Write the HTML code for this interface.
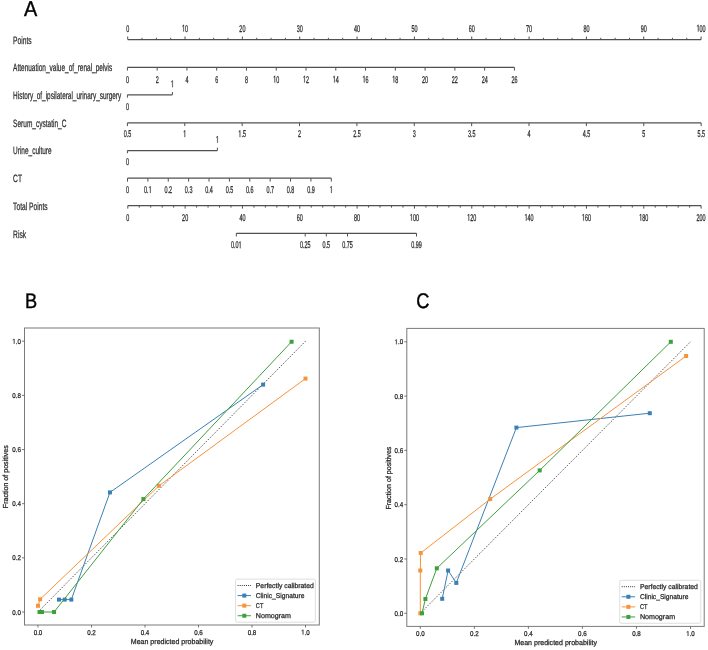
<!DOCTYPE html>
<html><head><meta charset="utf-8"><title>Nomogram and calibration curves</title>
<style>
html,body{margin:0;padding:0;background:#fff;}
body{width:708px;height:650px;overflow:hidden;}
svg{display:block;font-family:"Liberation Sans",sans-serif;text-rendering:geometricPrecision;filter:blur(0.3px);}
</style></head>
<body>
<svg width="708" height="650" viewBox="0 0 708 650">
<rect width="708" height="650" fill="#fff"/>
<text transform="translate(23.9,15.8) scale(0.93,1)" font-size="21.4" fill="#000" stroke="#000" stroke-width="0.4">A</text>
<text transform="translate(13.10,43.60) scale(0.6300,1)" font-size="10.6" text-anchor="start" fill="#2a2a2a" stroke="#2a2a2a" stroke-width="0.25">Points</text>
<text transform="translate(13.10,71.30) scale(0.6124,1)" font-size="10.6" text-anchor="start" fill="#2a2a2a" stroke="#2a2a2a" stroke-width="0.25">Attenuation_value_of_renal_pelvis</text>
<text transform="translate(13.10,99.00) scale(0.6079,1)" font-size="10.6" text-anchor="start" fill="#2a2a2a" stroke="#2a2a2a" stroke-width="0.25">History_of_ipsilateral_urinary_surgery</text>
<text transform="translate(13.10,126.70) scale(0.6161,1)" font-size="10.6" text-anchor="start" fill="#2a2a2a" stroke="#2a2a2a" stroke-width="0.25">Serum_cystatin_C</text>
<text transform="translate(13.10,154.40) scale(0.6111,1)" font-size="10.6" text-anchor="start" fill="#2a2a2a" stroke="#2a2a2a" stroke-width="0.25">Urine_culture</text>
<text transform="translate(13.10,182.10) scale(0.6300,1)" font-size="10.6" text-anchor="start" fill="#2a2a2a" stroke="#2a2a2a" stroke-width="0.25">CT</text>
<text transform="translate(13.10,209.80) scale(0.6300,1)" font-size="10.6" text-anchor="start" fill="#2a2a2a" stroke="#2a2a2a" stroke-width="0.25">Total Points</text>
<text transform="translate(13.10,237.50) scale(0.6300,1)" font-size="10.6" text-anchor="start" fill="#2a2a2a" stroke="#2a2a2a" stroke-width="0.25">Risk</text>
<line x1="127.70" y1="39.50" x2="701.10" y2="39.50" stroke="#505050" stroke-width="1.25" />
<line x1="127.70" y1="39.50" x2="127.70" y2="36.50" stroke="#505050" stroke-width="1.0" />
<line x1="142.03" y1="39.50" x2="142.03" y2="37.80" stroke="#505050" stroke-width="1.0" />
<line x1="156.37" y1="39.50" x2="156.37" y2="37.80" stroke="#505050" stroke-width="1.0" />
<line x1="170.71" y1="39.50" x2="170.71" y2="37.80" stroke="#505050" stroke-width="1.0" />
<line x1="185.04" y1="39.50" x2="185.04" y2="36.50" stroke="#505050" stroke-width="1.0" />
<line x1="199.38" y1="39.50" x2="199.38" y2="37.80" stroke="#505050" stroke-width="1.0" />
<line x1="213.71" y1="39.50" x2="213.71" y2="37.80" stroke="#505050" stroke-width="1.0" />
<line x1="228.05" y1="39.50" x2="228.05" y2="37.80" stroke="#505050" stroke-width="1.0" />
<line x1="242.38" y1="39.50" x2="242.38" y2="36.50" stroke="#505050" stroke-width="1.0" />
<line x1="256.71" y1="39.50" x2="256.71" y2="37.80" stroke="#505050" stroke-width="1.0" />
<line x1="271.05" y1="39.50" x2="271.05" y2="37.80" stroke="#505050" stroke-width="1.0" />
<line x1="285.38" y1="39.50" x2="285.38" y2="37.80" stroke="#505050" stroke-width="1.0" />
<line x1="299.72" y1="39.50" x2="299.72" y2="36.50" stroke="#505050" stroke-width="1.0" />
<line x1="314.06" y1="39.50" x2="314.06" y2="37.80" stroke="#505050" stroke-width="1.0" />
<line x1="328.39" y1="39.50" x2="328.39" y2="37.80" stroke="#505050" stroke-width="1.0" />
<line x1="342.73" y1="39.50" x2="342.73" y2="37.80" stroke="#505050" stroke-width="1.0" />
<line x1="357.06" y1="39.50" x2="357.06" y2="36.50" stroke="#505050" stroke-width="1.0" />
<line x1="371.39" y1="39.50" x2="371.39" y2="37.80" stroke="#505050" stroke-width="1.0" />
<line x1="385.73" y1="39.50" x2="385.73" y2="37.80" stroke="#505050" stroke-width="1.0" />
<line x1="400.06" y1="39.50" x2="400.06" y2="37.80" stroke="#505050" stroke-width="1.0" />
<line x1="414.40" y1="39.50" x2="414.40" y2="36.50" stroke="#505050" stroke-width="1.0" />
<line x1="428.74" y1="39.50" x2="428.74" y2="37.80" stroke="#505050" stroke-width="1.0" />
<line x1="443.07" y1="39.50" x2="443.07" y2="37.80" stroke="#505050" stroke-width="1.0" />
<line x1="457.40" y1="39.50" x2="457.40" y2="37.80" stroke="#505050" stroke-width="1.0" />
<line x1="471.74" y1="39.50" x2="471.74" y2="36.50" stroke="#505050" stroke-width="1.0" />
<line x1="486.07" y1="39.50" x2="486.07" y2="37.80" stroke="#505050" stroke-width="1.0" />
<line x1="500.41" y1="39.50" x2="500.41" y2="37.80" stroke="#505050" stroke-width="1.0" />
<line x1="514.75" y1="39.50" x2="514.75" y2="37.80" stroke="#505050" stroke-width="1.0" />
<line x1="529.08" y1="39.50" x2="529.08" y2="36.50" stroke="#505050" stroke-width="1.0" />
<line x1="543.41" y1="39.50" x2="543.41" y2="37.80" stroke="#505050" stroke-width="1.0" />
<line x1="557.75" y1="39.50" x2="557.75" y2="37.80" stroke="#505050" stroke-width="1.0" />
<line x1="572.09" y1="39.50" x2="572.09" y2="37.80" stroke="#505050" stroke-width="1.0" />
<line x1="586.42" y1="39.50" x2="586.42" y2="36.50" stroke="#505050" stroke-width="1.0" />
<line x1="600.75" y1="39.50" x2="600.75" y2="37.80" stroke="#505050" stroke-width="1.0" />
<line x1="615.09" y1="39.50" x2="615.09" y2="37.80" stroke="#505050" stroke-width="1.0" />
<line x1="629.43" y1="39.50" x2="629.43" y2="37.80" stroke="#505050" stroke-width="1.0" />
<line x1="643.76" y1="39.50" x2="643.76" y2="36.50" stroke="#505050" stroke-width="1.0" />
<line x1="658.10" y1="39.50" x2="658.10" y2="37.80" stroke="#505050" stroke-width="1.0" />
<line x1="672.43" y1="39.50" x2="672.43" y2="37.80" stroke="#505050" stroke-width="1.0" />
<line x1="686.77" y1="39.50" x2="686.77" y2="37.80" stroke="#505050" stroke-width="1.0" />
<line x1="701.10" y1="39.50" x2="701.10" y2="36.50" stroke="#505050" stroke-width="1.0" />
<text transform="translate(126.19,31.60) scale(0.5530,1)" font-size="9.8" fill="#2a2a2a" stroke="#2a2a2a" stroke-width="0.3">0</text>
<path transform="translate(182.03,31.60) scale(0.00265,-0.00479)" d="M515 0V1237L197 1010V1180L530 1409H696V0Z" fill="#2a2a2a" stroke="#2a2a2a" stroke-width="62.7"/>
<text transform="translate(185.04,31.60) scale(0.5530,1)" font-size="9.8" fill="#2a2a2a" stroke="#2a2a2a" stroke-width="0.3">0</text>
<text transform="translate(239.37,31.60) scale(0.5530,1)" font-size="9.8" fill="#2a2a2a" stroke="#2a2a2a" stroke-width="0.3">20</text>
<text transform="translate(296.71,31.60) scale(0.5530,1)" font-size="9.8" fill="#2a2a2a" stroke="#2a2a2a" stroke-width="0.3">30</text>
<text transform="translate(354.05,31.60) scale(0.5530,1)" font-size="9.8" fill="#2a2a2a" stroke="#2a2a2a" stroke-width="0.3">40</text>
<text transform="translate(411.39,31.60) scale(0.5530,1)" font-size="9.8" fill="#2a2a2a" stroke="#2a2a2a" stroke-width="0.3">50</text>
<text transform="translate(468.73,31.60) scale(0.5530,1)" font-size="9.8" fill="#2a2a2a" stroke="#2a2a2a" stroke-width="0.3">60</text>
<text transform="translate(526.07,31.60) scale(0.5530,1)" font-size="9.8" fill="#2a2a2a" stroke="#2a2a2a" stroke-width="0.3">70</text>
<text transform="translate(583.41,31.60) scale(0.5530,1)" font-size="9.8" fill="#2a2a2a" stroke="#2a2a2a" stroke-width="0.3">80</text>
<text transform="translate(640.75,31.60) scale(0.5530,1)" font-size="9.8" fill="#2a2a2a" stroke="#2a2a2a" stroke-width="0.3">90</text>
<path transform="translate(696.58,31.60) scale(0.00265,-0.00479)" d="M515 0V1237L197 1010V1180L530 1409H696V0Z" fill="#2a2a2a" stroke="#2a2a2a" stroke-width="62.7"/>
<text transform="translate(699.59,31.60) scale(0.5530,1)" font-size="9.8" fill="#2a2a2a" stroke="#2a2a2a" stroke-width="0.3">00</text>
<line x1="127.40" y1="67.40" x2="514.41" y2="67.40" stroke="#505050" stroke-width="1.25" />
<line x1="127.40" y1="67.40" x2="127.40" y2="70.60" stroke="#505050" stroke-width="1.0" />
<text transform="translate(125.89,82.60) scale(0.5530,1)" font-size="9.8" fill="#2a2a2a" stroke="#2a2a2a" stroke-width="0.3">0</text>
<line x1="157.17" y1="67.40" x2="157.17" y2="70.60" stroke="#505050" stroke-width="1.0" />
<text transform="translate(155.66,82.60) scale(0.5530,1)" font-size="9.8" fill="#2a2a2a" stroke="#2a2a2a" stroke-width="0.3">2</text>
<line x1="186.94" y1="67.40" x2="186.94" y2="70.60" stroke="#505050" stroke-width="1.0" />
<text transform="translate(185.43,82.60) scale(0.5530,1)" font-size="9.8" fill="#2a2a2a" stroke="#2a2a2a" stroke-width="0.3">4</text>
<line x1="216.71" y1="67.40" x2="216.71" y2="70.60" stroke="#505050" stroke-width="1.0" />
<text transform="translate(215.20,82.60) scale(0.5530,1)" font-size="9.8" fill="#2a2a2a" stroke="#2a2a2a" stroke-width="0.3">6</text>
<line x1="246.48" y1="67.40" x2="246.48" y2="70.60" stroke="#505050" stroke-width="1.0" />
<text transform="translate(244.97,82.60) scale(0.5530,1)" font-size="9.8" fill="#2a2a2a" stroke="#2a2a2a" stroke-width="0.3">8</text>
<line x1="276.25" y1="67.40" x2="276.25" y2="70.60" stroke="#505050" stroke-width="1.0" />
<path transform="translate(273.24,82.60) scale(0.00265,-0.00479)" d="M515 0V1237L197 1010V1180L530 1409H696V0Z" fill="#2a2a2a" stroke="#2a2a2a" stroke-width="62.7"/>
<text transform="translate(276.25,82.60) scale(0.5530,1)" font-size="9.8" fill="#2a2a2a" stroke="#2a2a2a" stroke-width="0.3">0</text>
<line x1="306.02" y1="67.40" x2="306.02" y2="70.60" stroke="#505050" stroke-width="1.0" />
<path transform="translate(303.01,82.60) scale(0.00265,-0.00479)" d="M515 0V1237L197 1010V1180L530 1409H696V0Z" fill="#2a2a2a" stroke="#2a2a2a" stroke-width="62.7"/>
<text transform="translate(306.02,82.60) scale(0.5530,1)" font-size="9.8" fill="#2a2a2a" stroke="#2a2a2a" stroke-width="0.3">2</text>
<line x1="335.79" y1="67.40" x2="335.79" y2="70.60" stroke="#505050" stroke-width="1.0" />
<path transform="translate(332.78,82.60) scale(0.00265,-0.00479)" d="M515 0V1237L197 1010V1180L530 1409H696V0Z" fill="#2a2a2a" stroke="#2a2a2a" stroke-width="62.7"/>
<text transform="translate(335.79,82.60) scale(0.5530,1)" font-size="9.8" fill="#2a2a2a" stroke="#2a2a2a" stroke-width="0.3">4</text>
<line x1="365.56" y1="67.40" x2="365.56" y2="70.60" stroke="#505050" stroke-width="1.0" />
<path transform="translate(362.55,82.60) scale(0.00265,-0.00479)" d="M515 0V1237L197 1010V1180L530 1409H696V0Z" fill="#2a2a2a" stroke="#2a2a2a" stroke-width="62.7"/>
<text transform="translate(365.56,82.60) scale(0.5530,1)" font-size="9.8" fill="#2a2a2a" stroke="#2a2a2a" stroke-width="0.3">6</text>
<line x1="395.33" y1="67.40" x2="395.33" y2="70.60" stroke="#505050" stroke-width="1.0" />
<path transform="translate(392.32,82.60) scale(0.00265,-0.00479)" d="M515 0V1237L197 1010V1180L530 1409H696V0Z" fill="#2a2a2a" stroke="#2a2a2a" stroke-width="62.7"/>
<text transform="translate(395.33,82.60) scale(0.5530,1)" font-size="9.8" fill="#2a2a2a" stroke="#2a2a2a" stroke-width="0.3">8</text>
<line x1="425.10" y1="67.40" x2="425.10" y2="70.60" stroke="#505050" stroke-width="1.0" />
<text transform="translate(422.09,82.60) scale(0.5530,1)" font-size="9.8" fill="#2a2a2a" stroke="#2a2a2a" stroke-width="0.3">20</text>
<line x1="454.87" y1="67.40" x2="454.87" y2="70.60" stroke="#505050" stroke-width="1.0" />
<text transform="translate(451.86,82.60) scale(0.5530,1)" font-size="9.8" fill="#2a2a2a" stroke="#2a2a2a" stroke-width="0.3">22</text>
<line x1="484.64" y1="67.40" x2="484.64" y2="70.60" stroke="#505050" stroke-width="1.0" />
<text transform="translate(481.63,82.60) scale(0.5530,1)" font-size="9.8" fill="#2a2a2a" stroke="#2a2a2a" stroke-width="0.3">24</text>
<line x1="514.41" y1="67.40" x2="514.41" y2="70.60" stroke="#505050" stroke-width="1.0" />
<text transform="translate(511.40,82.60) scale(0.5530,1)" font-size="9.8" fill="#2a2a2a" stroke="#2a2a2a" stroke-width="0.3">26</text>
<line x1="127.40" y1="94.80" x2="172.40" y2="94.80" stroke="#505050" stroke-width="1.25" />
<line x1="127.40" y1="94.80" x2="127.40" y2="97.60" stroke="#505050" stroke-width="1.0" />
<line x1="172.40" y1="94.80" x2="172.40" y2="92.00" stroke="#505050" stroke-width="1.0" />
<text transform="translate(125.89,110.40) scale(0.5530,1)" font-size="9.8" fill="#2a2a2a" stroke="#2a2a2a" stroke-width="0.3">0</text>
<path transform="translate(170.89,87.20) scale(0.00265,-0.00479)" d="M515 0V1237L197 1010V1180L530 1409H696V0Z" fill="#2a2a2a" stroke="#2a2a2a" stroke-width="62.7"/>
<line x1="127.40" y1="122.90" x2="701.15" y2="122.90" stroke="#505050" stroke-width="1.25" />
<line x1="127.40" y1="122.90" x2="127.40" y2="126.10" stroke="#505050" stroke-width="1.0" />
<text transform="translate(123.63,137.10) scale(0.5530,1)" font-size="9.8" fill="#2a2a2a" stroke="#2a2a2a" stroke-width="0.3">0.5</text>
<line x1="184.78" y1="122.90" x2="184.78" y2="126.10" stroke="#505050" stroke-width="1.0" />
<path transform="translate(183.27,137.10) scale(0.00265,-0.00479)" d="M515 0V1237L197 1010V1180L530 1409H696V0Z" fill="#2a2a2a" stroke="#2a2a2a" stroke-width="62.7"/>
<line x1="242.15" y1="122.90" x2="242.15" y2="126.10" stroke="#505050" stroke-width="1.0" />
<path transform="translate(238.38,137.10) scale(0.00265,-0.00479)" d="M515 0V1237L197 1010V1180L530 1409H696V0Z" fill="#2a2a2a" stroke="#2a2a2a" stroke-width="62.7"/>
<text transform="translate(241.40,137.10) scale(0.5530,1)" font-size="9.8" fill="#2a2a2a" stroke="#2a2a2a" stroke-width="0.3">.5</text>
<line x1="299.52" y1="122.90" x2="299.52" y2="126.10" stroke="#505050" stroke-width="1.0" />
<text transform="translate(298.02,137.10) scale(0.5530,1)" font-size="9.8" fill="#2a2a2a" stroke="#2a2a2a" stroke-width="0.3">2</text>
<line x1="356.90" y1="122.90" x2="356.90" y2="126.10" stroke="#505050" stroke-width="1.0" />
<text transform="translate(353.13,137.10) scale(0.5530,1)" font-size="9.8" fill="#2a2a2a" stroke="#2a2a2a" stroke-width="0.3">2.5</text>
<line x1="414.27" y1="122.90" x2="414.27" y2="126.10" stroke="#505050" stroke-width="1.0" />
<text transform="translate(412.77,137.10) scale(0.5530,1)" font-size="9.8" fill="#2a2a2a" stroke="#2a2a2a" stroke-width="0.3">3</text>
<line x1="471.65" y1="122.90" x2="471.65" y2="126.10" stroke="#505050" stroke-width="1.0" />
<text transform="translate(467.88,137.10) scale(0.5530,1)" font-size="9.8" fill="#2a2a2a" stroke="#2a2a2a" stroke-width="0.3">3.5</text>
<line x1="529.02" y1="122.90" x2="529.02" y2="126.10" stroke="#505050" stroke-width="1.0" />
<text transform="translate(527.52,137.10) scale(0.5530,1)" font-size="9.8" fill="#2a2a2a" stroke="#2a2a2a" stroke-width="0.3">4</text>
<line x1="586.40" y1="122.90" x2="586.40" y2="126.10" stroke="#505050" stroke-width="1.0" />
<text transform="translate(582.63,137.10) scale(0.5530,1)" font-size="9.8" fill="#2a2a2a" stroke="#2a2a2a" stroke-width="0.3">4.5</text>
<line x1="643.77" y1="122.90" x2="643.77" y2="126.10" stroke="#505050" stroke-width="1.0" />
<text transform="translate(642.27,137.10) scale(0.5530,1)" font-size="9.8" fill="#2a2a2a" stroke="#2a2a2a" stroke-width="0.3">5</text>
<line x1="701.15" y1="122.90" x2="701.15" y2="126.10" stroke="#505050" stroke-width="1.0" />
<text transform="translate(697.38,137.10) scale(0.5530,1)" font-size="9.8" fill="#2a2a2a" stroke="#2a2a2a" stroke-width="0.3">5.5</text>
<line x1="127.40" y1="150.50" x2="217.40" y2="150.50" stroke="#505050" stroke-width="1.25" />
<line x1="127.40" y1="150.50" x2="127.40" y2="153.30" stroke="#505050" stroke-width="1.0" />
<line x1="217.40" y1="150.50" x2="217.40" y2="147.70" stroke="#505050" stroke-width="1.0" />
<text transform="translate(125.89,165.10) scale(0.5530,1)" font-size="9.8" fill="#2a2a2a" stroke="#2a2a2a" stroke-width="0.3">0</text>
<path transform="translate(215.89,142.80) scale(0.00265,-0.00479)" d="M515 0V1237L197 1010V1180L530 1409H696V0Z" fill="#2a2a2a" stroke="#2a2a2a" stroke-width="62.7"/>
<line x1="127.50" y1="178.20" x2="331.30" y2="178.20" stroke="#505050" stroke-width="1.25" />
<line x1="127.50" y1="178.20" x2="127.50" y2="181.60" stroke="#505050" stroke-width="1.0" />
<text transform="translate(125.99,192.90) scale(0.5530,1)" font-size="9.8" fill="#2a2a2a" stroke="#2a2a2a" stroke-width="0.3">0</text>
<line x1="147.88" y1="178.20" x2="147.88" y2="181.60" stroke="#505050" stroke-width="1.0" />
<text transform="translate(144.11,192.90) scale(0.5530,1)" font-size="9.8" fill="#2a2a2a" stroke="#2a2a2a" stroke-width="0.3">0.</text>
<path transform="translate(148.63,192.90) scale(0.00265,-0.00479)" d="M515 0V1237L197 1010V1180L530 1409H696V0Z" fill="#2a2a2a" stroke="#2a2a2a" stroke-width="62.7"/>
<line x1="168.26" y1="178.20" x2="168.26" y2="181.60" stroke="#505050" stroke-width="1.0" />
<text transform="translate(164.49,192.90) scale(0.5530,1)" font-size="9.8" fill="#2a2a2a" stroke="#2a2a2a" stroke-width="0.3">0.2</text>
<line x1="188.64" y1="178.20" x2="188.64" y2="181.60" stroke="#505050" stroke-width="1.0" />
<text transform="translate(184.87,192.90) scale(0.5530,1)" font-size="9.8" fill="#2a2a2a" stroke="#2a2a2a" stroke-width="0.3">0.3</text>
<line x1="209.02" y1="178.20" x2="209.02" y2="181.60" stroke="#505050" stroke-width="1.0" />
<text transform="translate(205.25,192.90) scale(0.5530,1)" font-size="9.8" fill="#2a2a2a" stroke="#2a2a2a" stroke-width="0.3">0.4</text>
<line x1="229.40" y1="178.20" x2="229.40" y2="181.60" stroke="#505050" stroke-width="1.0" />
<text transform="translate(225.63,192.90) scale(0.5530,1)" font-size="9.8" fill="#2a2a2a" stroke="#2a2a2a" stroke-width="0.3">0.5</text>
<line x1="249.78" y1="178.20" x2="249.78" y2="181.60" stroke="#505050" stroke-width="1.0" />
<text transform="translate(246.01,192.90) scale(0.5530,1)" font-size="9.8" fill="#2a2a2a" stroke="#2a2a2a" stroke-width="0.3">0.6</text>
<line x1="270.16" y1="178.20" x2="270.16" y2="181.60" stroke="#505050" stroke-width="1.0" />
<text transform="translate(266.39,192.90) scale(0.5530,1)" font-size="9.8" fill="#2a2a2a" stroke="#2a2a2a" stroke-width="0.3">0.7</text>
<line x1="290.54" y1="178.20" x2="290.54" y2="181.60" stroke="#505050" stroke-width="1.0" />
<text transform="translate(286.77,192.90) scale(0.5530,1)" font-size="9.8" fill="#2a2a2a" stroke="#2a2a2a" stroke-width="0.3">0.8</text>
<line x1="310.92" y1="178.20" x2="310.92" y2="181.60" stroke="#505050" stroke-width="1.0" />
<text transform="translate(307.15,192.90) scale(0.5530,1)" font-size="9.8" fill="#2a2a2a" stroke="#2a2a2a" stroke-width="0.3">0.9</text>
<line x1="331.30" y1="178.20" x2="331.30" y2="181.60" stroke="#505050" stroke-width="1.0" />
<path transform="translate(329.79,192.90) scale(0.00265,-0.00479)" d="M515 0V1237L197 1010V1180L530 1409H696V0Z" fill="#2a2a2a" stroke="#2a2a2a" stroke-width="62.7"/>
<line x1="127.80" y1="205.60" x2="701.10" y2="205.60" stroke="#505050" stroke-width="1.25" />
<line x1="127.80" y1="205.60" x2="127.80" y2="208.60" stroke="#505050" stroke-width="1.0" />
<line x1="139.27" y1="205.60" x2="139.27" y2="207.60" stroke="#505050" stroke-width="1.0" />
<line x1="150.73" y1="205.60" x2="150.73" y2="207.60" stroke="#505050" stroke-width="1.0" />
<line x1="162.20" y1="205.60" x2="162.20" y2="207.60" stroke="#505050" stroke-width="1.0" />
<line x1="173.66" y1="205.60" x2="173.66" y2="207.60" stroke="#505050" stroke-width="1.0" />
<line x1="185.13" y1="205.60" x2="185.13" y2="208.60" stroke="#505050" stroke-width="1.0" />
<line x1="196.60" y1="205.60" x2="196.60" y2="207.60" stroke="#505050" stroke-width="1.0" />
<line x1="208.06" y1="205.60" x2="208.06" y2="207.60" stroke="#505050" stroke-width="1.0" />
<line x1="219.53" y1="205.60" x2="219.53" y2="207.60" stroke="#505050" stroke-width="1.0" />
<line x1="230.99" y1="205.60" x2="230.99" y2="207.60" stroke="#505050" stroke-width="1.0" />
<line x1="242.46" y1="205.60" x2="242.46" y2="208.60" stroke="#505050" stroke-width="1.0" />
<line x1="253.93" y1="205.60" x2="253.93" y2="207.60" stroke="#505050" stroke-width="1.0" />
<line x1="265.39" y1="205.60" x2="265.39" y2="207.60" stroke="#505050" stroke-width="1.0" />
<line x1="276.86" y1="205.60" x2="276.86" y2="207.60" stroke="#505050" stroke-width="1.0" />
<line x1="288.32" y1="205.60" x2="288.32" y2="207.60" stroke="#505050" stroke-width="1.0" />
<line x1="299.79" y1="205.60" x2="299.79" y2="208.60" stroke="#505050" stroke-width="1.0" />
<line x1="311.26" y1="205.60" x2="311.26" y2="207.60" stroke="#505050" stroke-width="1.0" />
<line x1="322.72" y1="205.60" x2="322.72" y2="207.60" stroke="#505050" stroke-width="1.0" />
<line x1="334.19" y1="205.60" x2="334.19" y2="207.60" stroke="#505050" stroke-width="1.0" />
<line x1="345.65" y1="205.60" x2="345.65" y2="207.60" stroke="#505050" stroke-width="1.0" />
<line x1="357.12" y1="205.60" x2="357.12" y2="208.60" stroke="#505050" stroke-width="1.0" />
<line x1="368.59" y1="205.60" x2="368.59" y2="207.60" stroke="#505050" stroke-width="1.0" />
<line x1="380.05" y1="205.60" x2="380.05" y2="207.60" stroke="#505050" stroke-width="1.0" />
<line x1="391.52" y1="205.60" x2="391.52" y2="207.60" stroke="#505050" stroke-width="1.0" />
<line x1="402.98" y1="205.60" x2="402.98" y2="207.60" stroke="#505050" stroke-width="1.0" />
<line x1="414.45" y1="205.60" x2="414.45" y2="208.60" stroke="#505050" stroke-width="1.0" />
<line x1="425.92" y1="205.60" x2="425.92" y2="207.60" stroke="#505050" stroke-width="1.0" />
<line x1="437.38" y1="205.60" x2="437.38" y2="207.60" stroke="#505050" stroke-width="1.0" />
<line x1="448.85" y1="205.60" x2="448.85" y2="207.60" stroke="#505050" stroke-width="1.0" />
<line x1="460.31" y1="205.60" x2="460.31" y2="207.60" stroke="#505050" stroke-width="1.0" />
<line x1="471.78" y1="205.60" x2="471.78" y2="208.60" stroke="#505050" stroke-width="1.0" />
<line x1="483.25" y1="205.60" x2="483.25" y2="207.60" stroke="#505050" stroke-width="1.0" />
<line x1="494.71" y1="205.60" x2="494.71" y2="207.60" stroke="#505050" stroke-width="1.0" />
<line x1="506.18" y1="205.60" x2="506.18" y2="207.60" stroke="#505050" stroke-width="1.0" />
<line x1="517.64" y1="205.60" x2="517.64" y2="207.60" stroke="#505050" stroke-width="1.0" />
<line x1="529.11" y1="205.60" x2="529.11" y2="208.60" stroke="#505050" stroke-width="1.0" />
<line x1="540.58" y1="205.60" x2="540.58" y2="207.60" stroke="#505050" stroke-width="1.0" />
<line x1="552.04" y1="205.60" x2="552.04" y2="207.60" stroke="#505050" stroke-width="1.0" />
<line x1="563.51" y1="205.60" x2="563.51" y2="207.60" stroke="#505050" stroke-width="1.0" />
<line x1="574.97" y1="205.60" x2="574.97" y2="207.60" stroke="#505050" stroke-width="1.0" />
<line x1="586.44" y1="205.60" x2="586.44" y2="208.60" stroke="#505050" stroke-width="1.0" />
<line x1="597.91" y1="205.60" x2="597.91" y2="207.60" stroke="#505050" stroke-width="1.0" />
<line x1="609.37" y1="205.60" x2="609.37" y2="207.60" stroke="#505050" stroke-width="1.0" />
<line x1="620.84" y1="205.60" x2="620.84" y2="207.60" stroke="#505050" stroke-width="1.0" />
<line x1="632.30" y1="205.60" x2="632.30" y2="207.60" stroke="#505050" stroke-width="1.0" />
<line x1="643.77" y1="205.60" x2="643.77" y2="208.60" stroke="#505050" stroke-width="1.0" />
<line x1="655.24" y1="205.60" x2="655.24" y2="207.60" stroke="#505050" stroke-width="1.0" />
<line x1="666.70" y1="205.60" x2="666.70" y2="207.60" stroke="#505050" stroke-width="1.0" />
<line x1="678.17" y1="205.60" x2="678.17" y2="207.60" stroke="#505050" stroke-width="1.0" />
<line x1="689.63" y1="205.60" x2="689.63" y2="207.60" stroke="#505050" stroke-width="1.0" />
<line x1="701.10" y1="205.60" x2="701.10" y2="208.60" stroke="#505050" stroke-width="1.0" />
<text transform="translate(126.29,220.70) scale(0.5530,1)" font-size="9.8" fill="#2a2a2a" stroke="#2a2a2a" stroke-width="0.3">0</text>
<text transform="translate(182.12,220.70) scale(0.5530,1)" font-size="9.8" fill="#2a2a2a" stroke="#2a2a2a" stroke-width="0.3">20</text>
<text transform="translate(239.45,220.70) scale(0.5530,1)" font-size="9.8" fill="#2a2a2a" stroke="#2a2a2a" stroke-width="0.3">40</text>
<text transform="translate(296.78,220.70) scale(0.5530,1)" font-size="9.8" fill="#2a2a2a" stroke="#2a2a2a" stroke-width="0.3">60</text>
<text transform="translate(354.11,220.70) scale(0.5530,1)" font-size="9.8" fill="#2a2a2a" stroke="#2a2a2a" stroke-width="0.3">80</text>
<path transform="translate(409.93,220.70) scale(0.00265,-0.00479)" d="M515 0V1237L197 1010V1180L530 1409H696V0Z" fill="#2a2a2a" stroke="#2a2a2a" stroke-width="62.7"/>
<text transform="translate(412.94,220.70) scale(0.5530,1)" font-size="9.8" fill="#2a2a2a" stroke="#2a2a2a" stroke-width="0.3">00</text>
<path transform="translate(467.26,220.70) scale(0.00265,-0.00479)" d="M515 0V1237L197 1010V1180L530 1409H696V0Z" fill="#2a2a2a" stroke="#2a2a2a" stroke-width="62.7"/>
<text transform="translate(470.27,220.70) scale(0.5530,1)" font-size="9.8" fill="#2a2a2a" stroke="#2a2a2a" stroke-width="0.3">20</text>
<path transform="translate(524.59,220.70) scale(0.00265,-0.00479)" d="M515 0V1237L197 1010V1180L530 1409H696V0Z" fill="#2a2a2a" stroke="#2a2a2a" stroke-width="62.7"/>
<text transform="translate(527.60,220.70) scale(0.5530,1)" font-size="9.8" fill="#2a2a2a" stroke="#2a2a2a" stroke-width="0.3">40</text>
<path transform="translate(581.92,220.70) scale(0.00265,-0.00479)" d="M515 0V1237L197 1010V1180L530 1409H696V0Z" fill="#2a2a2a" stroke="#2a2a2a" stroke-width="62.7"/>
<text transform="translate(584.93,220.70) scale(0.5530,1)" font-size="9.8" fill="#2a2a2a" stroke="#2a2a2a" stroke-width="0.3">60</text>
<path transform="translate(639.25,220.70) scale(0.00265,-0.00479)" d="M515 0V1237L197 1010V1180L530 1409H696V0Z" fill="#2a2a2a" stroke="#2a2a2a" stroke-width="62.7"/>
<text transform="translate(642.26,220.70) scale(0.5530,1)" font-size="9.8" fill="#2a2a2a" stroke="#2a2a2a" stroke-width="0.3">80</text>
<text transform="translate(696.58,220.70) scale(0.5530,1)" font-size="9.8" fill="#2a2a2a" stroke="#2a2a2a" stroke-width="0.3">200</text>
<line x1="236.30" y1="233.30" x2="416.50" y2="233.30" stroke="#505050" stroke-width="1.25" />
<line x1="236.30" y1="233.30" x2="236.30" y2="236.50" stroke="#505050" stroke-width="1.0" />
<text transform="translate(231.03,248.20) scale(0.5530,1)" font-size="9.8" fill="#2a2a2a" stroke="#2a2a2a" stroke-width="0.3">0.0</text>
<path transform="translate(238.56,248.20) scale(0.00265,-0.00479)" d="M515 0V1237L197 1010V1180L530 1409H696V0Z" fill="#2a2a2a" stroke="#2a2a2a" stroke-width="62.7"/>
<line x1="305.20" y1="233.30" x2="305.20" y2="236.50" stroke="#505050" stroke-width="1.0" />
<text transform="translate(299.93,248.20) scale(0.5530,1)" font-size="9.8" fill="#2a2a2a" stroke="#2a2a2a" stroke-width="0.3">0.25</text>
<line x1="326.30" y1="233.30" x2="326.30" y2="236.50" stroke="#505050" stroke-width="1.0" />
<text transform="translate(322.53,248.20) scale(0.5530,1)" font-size="9.8" fill="#2a2a2a" stroke="#2a2a2a" stroke-width="0.3">0.5</text>
<line x1="347.50" y1="233.30" x2="347.50" y2="236.50" stroke="#505050" stroke-width="1.0" />
<text transform="translate(342.23,248.20) scale(0.5530,1)" font-size="9.8" fill="#2a2a2a" stroke="#2a2a2a" stroke-width="0.3">0.75</text>
<line x1="416.50" y1="233.30" x2="416.50" y2="236.50" stroke="#505050" stroke-width="1.0" />
<text transform="translate(411.23,248.20) scale(0.5530,1)" font-size="9.8" fill="#2a2a2a" stroke="#2a2a2a" stroke-width="0.3">0.99</text>
<text transform="translate(24.9,308.2) scale(0.86,1)" font-size="21.2" fill="#000" stroke="#000" stroke-width="0.4">B</text>
<line x1="38.00" y1="612.00" x2="305.50" y2="341.20" stroke="#3a3a3a" stroke-width="1.0" stroke-dasharray="1.1,1.5"/>
<polyline points="59.00,599.60 64.70,599.60 71.30,599.60 109.96,492.39 263.10,384.61" fill="none" stroke="#3b80b5" stroke-width="1.0"/>
<rect x="57.00" y="597.60" width="4" height="4" fill="#3b80b5"/>
<rect x="62.70" y="597.60" width="4" height="4" fill="#3b80b5"/>
<rect x="69.30" y="597.60" width="4" height="4" fill="#3b80b5"/>
<rect x="107.96" y="490.39" width="4" height="4" fill="#3b80b5"/>
<rect x="261.10" y="382.61" width="4" height="4" fill="#3b80b5"/>
<polyline points="38.00,605.77 40.14,599.27 158.91,485.81 305.50,378.57" fill="none" stroke="#f7933a" stroke-width="1.0"/>
<rect x="36.00" y="603.77" width="4" height="4" fill="#f7933a"/>
<rect x="38.14" y="597.27" width="4" height="4" fill="#f7933a"/>
<rect x="156.91" y="483.81" width="4" height="4" fill="#f7933a"/>
<rect x="303.50" y="376.57" width="4" height="4" fill="#f7933a"/>
<polyline points="39.50,612.00 42.01,612.00 54.05,612.00 143.40,499.08 291.59,341.74" fill="none" stroke="#3e9f3e" stroke-width="1.0"/>
<rect x="37.50" y="610.00" width="4" height="4" fill="#3e9f3e"/>
<rect x="40.01" y="610.00" width="4" height="4" fill="#3e9f3e"/>
<rect x="52.05" y="610.00" width="4" height="4" fill="#3e9f3e"/>
<rect x="141.40" y="497.08" width="4" height="4" fill="#3e9f3e"/>
<rect x="289.59" y="339.74" width="4" height="4" fill="#3e9f3e"/>
<rect x="24.50" y="328.00" width="294.80" height="297.00" fill="none" stroke="#7a7a7a" stroke-width="1"/>
<line x1="38.00" y1="625.00" x2="38.00" y2="627.50" stroke="#555" stroke-width="0.8" />
<line x1="24.50" y1="612.00" x2="22.00" y2="612.00" stroke="#555" stroke-width="0.8" />
<text transform="translate(33.70,634.60) scale(0.8838,1)" font-size="7.0" fill="#262626" stroke="#262626" stroke-width="0.25">0.0</text>
<text transform="translate(12.30,614.50) scale(0.8838,1)" font-size="7.0" fill="#262626" stroke="#262626" stroke-width="0.25">0.0</text>
<line x1="91.50" y1="625.00" x2="91.50" y2="627.50" stroke="#555" stroke-width="0.8" />
<line x1="24.50" y1="557.84" x2="22.00" y2="557.84" stroke="#555" stroke-width="0.8" />
<text transform="translate(87.20,634.60) scale(0.8838,1)" font-size="7.0" fill="#262626" stroke="#262626" stroke-width="0.25">0.2</text>
<text transform="translate(12.30,560.34) scale(0.8838,1)" font-size="7.0" fill="#262626" stroke="#262626" stroke-width="0.25">0.2</text>
<line x1="145.00" y1="625.00" x2="145.00" y2="627.50" stroke="#555" stroke-width="0.8" />
<line x1="24.50" y1="503.68" x2="22.00" y2="503.68" stroke="#555" stroke-width="0.8" />
<text transform="translate(140.70,634.60) scale(0.8838,1)" font-size="7.0" fill="#262626" stroke="#262626" stroke-width="0.25">0.4</text>
<text transform="translate(12.30,506.18) scale(0.8838,1)" font-size="7.0" fill="#262626" stroke="#262626" stroke-width="0.25">0.4</text>
<line x1="198.50" y1="625.00" x2="198.50" y2="627.50" stroke="#555" stroke-width="0.8" />
<line x1="24.50" y1="449.52" x2="22.00" y2="449.52" stroke="#555" stroke-width="0.8" />
<text transform="translate(194.20,634.60) scale(0.8838,1)" font-size="7.0" fill="#262626" stroke="#262626" stroke-width="0.25">0.6</text>
<text transform="translate(12.30,452.02) scale(0.8838,1)" font-size="7.0" fill="#262626" stroke="#262626" stroke-width="0.25">0.6</text>
<line x1="252.00" y1="625.00" x2="252.00" y2="627.50" stroke="#555" stroke-width="0.8" />
<line x1="24.50" y1="395.36" x2="22.00" y2="395.36" stroke="#555" stroke-width="0.8" />
<text transform="translate(247.70,634.60) scale(0.8838,1)" font-size="7.0" fill="#262626" stroke="#262626" stroke-width="0.25">0.8</text>
<text transform="translate(12.30,397.86) scale(0.8838,1)" font-size="7.0" fill="#262626" stroke="#262626" stroke-width="0.25">0.8</text>
<line x1="305.50" y1="625.00" x2="305.50" y2="627.50" stroke="#555" stroke-width="0.8" />
<line x1="24.50" y1="341.20" x2="22.00" y2="341.20" stroke="#555" stroke-width="0.8" />
<path transform="translate(301.20,634.60) scale(0.00302,-0.00342)" d="M515 0V1237L197 1010V1180L530 1409H696V0Z" fill="#262626" stroke="#262626" stroke-width="73.1"/>
<text transform="translate(304.64,634.60) scale(0.8838,1)" font-size="7.0" fill="#262626" stroke="#262626" stroke-width="0.25">.0</text>
<path transform="translate(12.30,343.70) scale(0.00302,-0.00342)" d="M515 0V1237L197 1010V1180L530 1409H696V0Z" fill="#262626" stroke="#262626" stroke-width="73.1"/>
<text transform="translate(15.74,343.70) scale(0.8838,1)" font-size="7.0" fill="#262626" stroke="#262626" stroke-width="0.25">.0</text>
<text x="130.80" y="643.60" font-size="7.3" text-anchor="start" fill="#262626" stroke="#262626" stroke-width="0.25" textLength="82.6" lengthAdjust="spacingAndGlyphs" >Mean predicted probability</text>
<text transform="translate(8.00,508.20) rotate(-90)" font-size="7.3" fill="#262626" stroke="#262626" stroke-width="0.25" textLength="63" lengthAdjust="spacingAndGlyphs">Fraction of positives</text>
<rect x="235.60" y="579.10" width="79.80" height="43.10" rx="1.5" fill="#fff" fill-opacity="0.8" stroke="#d6d6d6" stroke-width="0.8"/>
<line x1="237.60" y1="585.50" x2="251.00" y2="585.50" stroke="#333" stroke-width="1.0" stroke-dasharray="1.0,1.1"/>
<text x="255.80" y="587.80" font-size="7.0" text-anchor="start" fill="#262626" stroke="#262626" stroke-width="0.25" textLength="58.0" lengthAdjust="spacingAndGlyphs" >Perfectly calibrated</text>
<line x1="237.60" y1="595.58" x2="251.00" y2="595.58" stroke="#3b80b5" stroke-width="1.0" />
<rect x="242.30" y="593.58" width="4" height="4" fill="#3b80b5"/>
<text x="255.80" y="597.88" font-size="7.0" text-anchor="start" fill="#262626" stroke="#262626" stroke-width="0.25" textLength="48.6" lengthAdjust="spacingAndGlyphs" >Clinic_Signature</text>
<line x1="237.60" y1="605.66" x2="251.00" y2="605.66" stroke="#f7933a" stroke-width="1.0" />
<rect x="242.30" y="603.66" width="4" height="4" fill="#f7933a"/>
<text x="255.80" y="607.96" font-size="7.0" text-anchor="start" fill="#262626" stroke="#262626" stroke-width="0.25" textLength="7.6" lengthAdjust="spacingAndGlyphs" >CT</text>
<line x1="237.60" y1="615.74" x2="251.00" y2="615.74" stroke="#3e9f3e" stroke-width="1.0" />
<rect x="242.30" y="613.74" width="4" height="4" fill="#3e9f3e"/>
<text x="255.80" y="618.04" font-size="7.0" text-anchor="start" fill="#262626" stroke="#262626" stroke-width="0.25" textLength="35.2" lengthAdjust="spacingAndGlyphs" >Nomogram</text>
<text transform="translate(416.2,308.1) scale(0.86,1)" font-size="21.2" fill="#000" stroke="#000" stroke-width="0.4">C</text>
<line x1="420.30" y1="613.30" x2="690.50" y2="341.80" stroke="#3a3a3a" stroke-width="1.0" stroke-dasharray="1.1,1.5"/>
<polyline points="442.20,598.80 448.10,570.50 456.30,582.90 516.40,427.60 649.80,413.20" fill="none" stroke="#3b80b5" stroke-width="1.0"/>
<rect x="440.20" y="596.80" width="4" height="4" fill="#3b80b5"/>
<rect x="446.10" y="568.50" width="4" height="4" fill="#3b80b5"/>
<rect x="454.30" y="580.90" width="4" height="4" fill="#3b80b5"/>
<rect x="514.40" y="425.60" width="4" height="4" fill="#3b80b5"/>
<rect x="647.80" y="411.20" width="4" height="4" fill="#3b80b5"/>
<polyline points="420.30,613.30 420.30,570.50 420.70,553.00 490.20,499.10 686.10,356.00" fill="none" stroke="#f7933a" stroke-width="1.0"/>
<rect x="418.30" y="611.30" width="4" height="4" fill="#f7933a"/>
<rect x="418.30" y="568.50" width="4" height="4" fill="#f7933a"/>
<rect x="418.70" y="551.00" width="4" height="4" fill="#f7933a"/>
<rect x="488.20" y="497.10" width="4" height="4" fill="#f7933a"/>
<rect x="684.10" y="354.00" width="4" height="4" fill="#f7933a"/>
<polyline points="422.00,613.30 425.40,599.00 436.80,568.30 539.70,470.40 670.80,341.80" fill="none" stroke="#3e9f3e" stroke-width="1.0"/>
<rect x="420.00" y="611.30" width="4" height="4" fill="#3e9f3e"/>
<rect x="423.40" y="597.00" width="4" height="4" fill="#3e9f3e"/>
<rect x="434.80" y="566.30" width="4" height="4" fill="#3e9f3e"/>
<rect x="537.70" y="468.40" width="4" height="4" fill="#3e9f3e"/>
<rect x="668.80" y="339.80" width="4" height="4" fill="#3e9f3e"/>
<rect x="406.80" y="328.40" width="297.40" height="298.00" fill="none" stroke="#7a7a7a" stroke-width="1"/>
<line x1="420.30" y1="626.40" x2="420.30" y2="628.90" stroke="#555" stroke-width="0.8" />
<line x1="406.80" y1="613.30" x2="404.30" y2="613.30" stroke="#555" stroke-width="0.8" />
<text transform="translate(416.00,636.00) scale(0.8838,1)" font-size="7.0" fill="#262626" stroke="#262626" stroke-width="0.25">0.0</text>
<text transform="translate(394.60,615.80) scale(0.8838,1)" font-size="7.0" fill="#262626" stroke="#262626" stroke-width="0.25">0.0</text>
<line x1="474.34" y1="626.40" x2="474.34" y2="628.90" stroke="#555" stroke-width="0.8" />
<line x1="406.80" y1="559.00" x2="404.30" y2="559.00" stroke="#555" stroke-width="0.8" />
<text transform="translate(470.04,636.00) scale(0.8838,1)" font-size="7.0" fill="#262626" stroke="#262626" stroke-width="0.25">0.2</text>
<text transform="translate(394.60,561.50) scale(0.8838,1)" font-size="7.0" fill="#262626" stroke="#262626" stroke-width="0.25">0.2</text>
<line x1="528.38" y1="626.40" x2="528.38" y2="628.90" stroke="#555" stroke-width="0.8" />
<line x1="406.80" y1="504.70" x2="404.30" y2="504.70" stroke="#555" stroke-width="0.8" />
<text transform="translate(524.08,636.00) scale(0.8838,1)" font-size="7.0" fill="#262626" stroke="#262626" stroke-width="0.25">0.4</text>
<text transform="translate(394.60,507.20) scale(0.8838,1)" font-size="7.0" fill="#262626" stroke="#262626" stroke-width="0.25">0.4</text>
<line x1="582.42" y1="626.40" x2="582.42" y2="628.90" stroke="#555" stroke-width="0.8" />
<line x1="406.80" y1="450.40" x2="404.30" y2="450.40" stroke="#555" stroke-width="0.8" />
<text transform="translate(578.12,636.00) scale(0.8838,1)" font-size="7.0" fill="#262626" stroke="#262626" stroke-width="0.25">0.6</text>
<text transform="translate(394.60,452.90) scale(0.8838,1)" font-size="7.0" fill="#262626" stroke="#262626" stroke-width="0.25">0.6</text>
<line x1="636.46" y1="626.40" x2="636.46" y2="628.90" stroke="#555" stroke-width="0.8" />
<line x1="406.80" y1="396.10" x2="404.30" y2="396.10" stroke="#555" stroke-width="0.8" />
<text transform="translate(632.16,636.00) scale(0.8838,1)" font-size="7.0" fill="#262626" stroke="#262626" stroke-width="0.25">0.8</text>
<text transform="translate(394.60,398.60) scale(0.8838,1)" font-size="7.0" fill="#262626" stroke="#262626" stroke-width="0.25">0.8</text>
<line x1="690.50" y1="626.40" x2="690.50" y2="628.90" stroke="#555" stroke-width="0.8" />
<line x1="406.80" y1="341.80" x2="404.30" y2="341.80" stroke="#555" stroke-width="0.8" />
<path transform="translate(686.20,636.00) scale(0.00302,-0.00342)" d="M515 0V1237L197 1010V1180L530 1409H696V0Z" fill="#262626" stroke="#262626" stroke-width="73.1"/>
<text transform="translate(689.64,636.00) scale(0.8838,1)" font-size="7.0" fill="#262626" stroke="#262626" stroke-width="0.25">.0</text>
<path transform="translate(394.60,344.30) scale(0.00302,-0.00342)" d="M515 0V1237L197 1010V1180L530 1409H696V0Z" fill="#262626" stroke="#262626" stroke-width="73.1"/>
<text transform="translate(398.04,344.30) scale(0.8838,1)" font-size="7.0" fill="#262626" stroke="#262626" stroke-width="0.25">.0</text>
<text x="514.40" y="645.00" font-size="7.3" text-anchor="start" fill="#262626" stroke="#262626" stroke-width="0.25" textLength="82.6" lengthAdjust="spacingAndGlyphs" >Mean predicted probability</text>
<text transform="translate(391.00,509.60) rotate(-90)" font-size="7.3" fill="#262626" stroke="#262626" stroke-width="0.25" textLength="63" lengthAdjust="spacingAndGlyphs">Fraction of positives</text>
<rect x="619.70" y="580.30" width="81.10" height="43.00" rx="1.5" fill="#fff" fill-opacity="0.8" stroke="#d6d6d6" stroke-width="0.8"/>
<line x1="621.70" y1="586.70" x2="635.10" y2="586.70" stroke="#333" stroke-width="1.0" stroke-dasharray="1.0,1.1"/>
<text x="639.90" y="589.00" font-size="7.0" text-anchor="start" fill="#262626" stroke="#262626" stroke-width="0.25" textLength="58.0" lengthAdjust="spacingAndGlyphs" >Perfectly calibrated</text>
<line x1="621.70" y1="596.78" x2="635.10" y2="596.78" stroke="#3b80b5" stroke-width="1.0" />
<rect x="626.40" y="594.78" width="4" height="4" fill="#3b80b5"/>
<text x="639.90" y="599.08" font-size="7.0" text-anchor="start" fill="#262626" stroke="#262626" stroke-width="0.25" textLength="48.6" lengthAdjust="spacingAndGlyphs" >Clinic_Signature</text>
<line x1="621.70" y1="606.86" x2="635.10" y2="606.86" stroke="#f7933a" stroke-width="1.0" />
<rect x="626.40" y="604.86" width="4" height="4" fill="#f7933a"/>
<text x="639.90" y="609.16" font-size="7.0" text-anchor="start" fill="#262626" stroke="#262626" stroke-width="0.25" textLength="7.6" lengthAdjust="spacingAndGlyphs" >CT</text>
<line x1="621.70" y1="616.94" x2="635.10" y2="616.94" stroke="#3e9f3e" stroke-width="1.0" />
<rect x="626.40" y="614.94" width="4" height="4" fill="#3e9f3e"/>
<text x="639.90" y="619.24" font-size="7.0" text-anchor="start" fill="#262626" stroke="#262626" stroke-width="0.25" textLength="35.2" lengthAdjust="spacingAndGlyphs" >Nomogram</text>
</svg>
</body></html>
